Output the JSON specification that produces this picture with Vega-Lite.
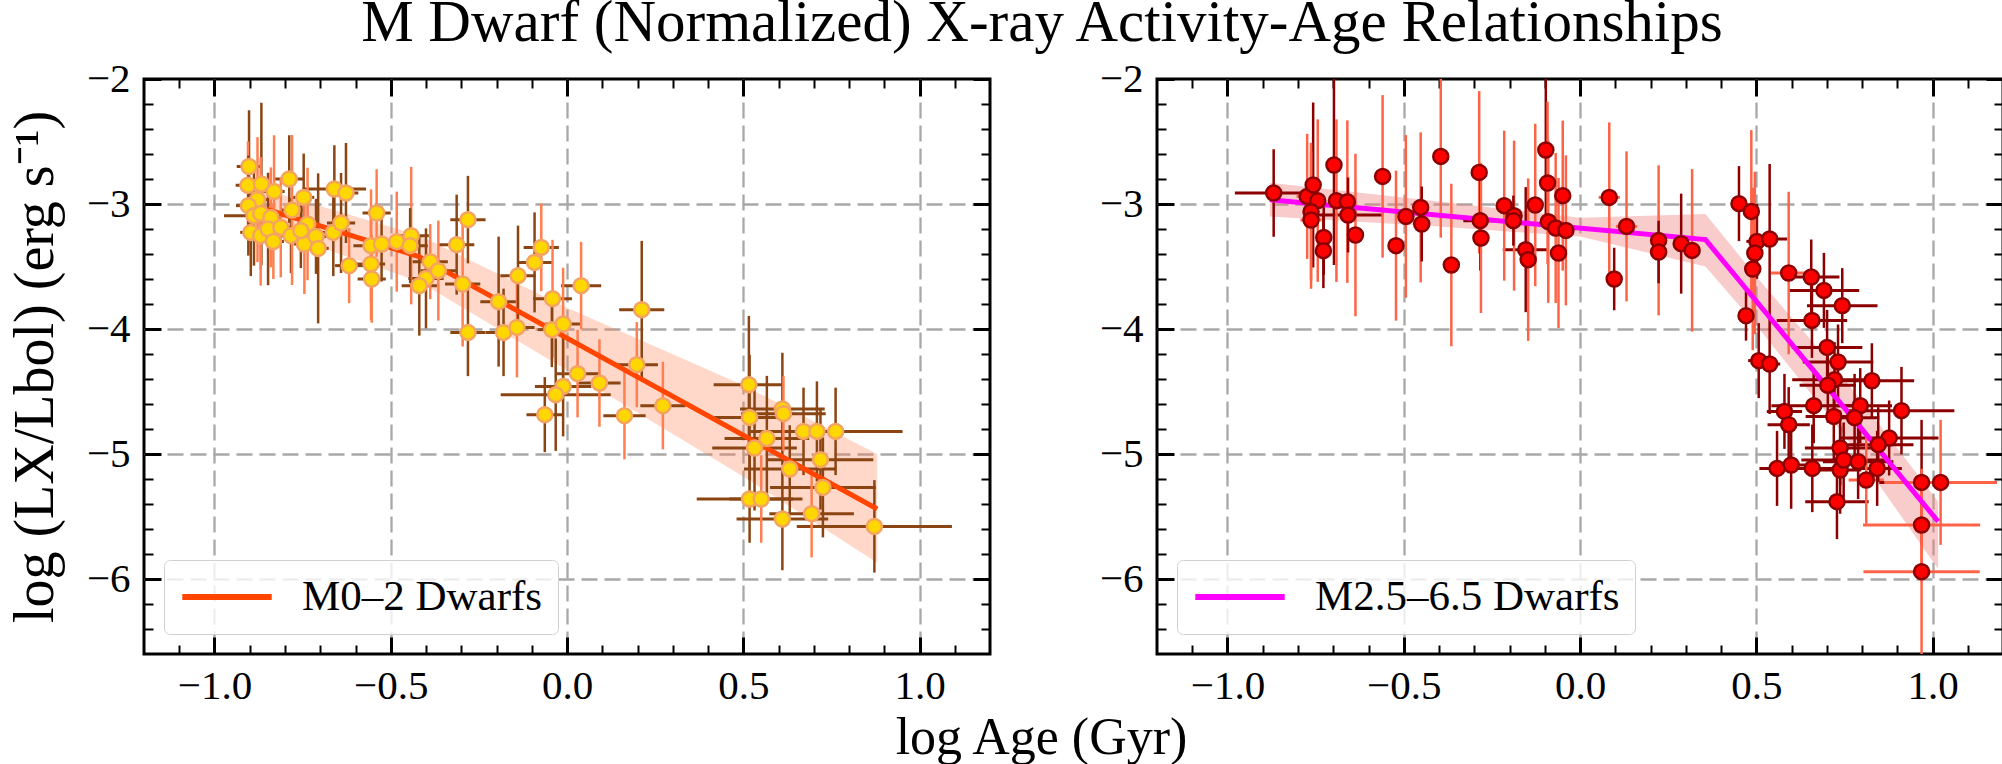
{
  "$schema": "https://vega.github.io/schema/vega-lite/v6.json",
  "background": "#ffffff",
  "padding": {"left": 5, "top": -7, "right": 0, "bottom": 0},
  "title": {
    "text": "M Dwarf (Normalized) X-ray Activity-Age Relationships",
    "font": "Liberation Serif",
    "fontSize": 59,
    "fontWeight": "normal",
    "color": "#000000",
    "anchor": "middle",
    "offset": 4,
    "dx": 36
  },
  "datasets": {
    "bandL": [
      {"x": -0.9, "lo": -3.15, "hi": -2.85},
      {"x": -0.42, "lo": -3.62, "hi": -3.25},
      {"x": 0.0, "lo": -4.33, "hi": -3.83},
      {"x": 0.5, "lo": -5.18, "hi": -4.45},
      {"x": 0.88, "lo": -5.87, "hi": -5.0}
    ],
    "fitL": [
      {"x": -0.9, "y": -3.0, "name": "M0–2 Dwarfs"},
      {"x": -0.42, "y": -3.42, "name": "M0–2 Dwarfs"},
      {"x": 0.88, "y": -5.44, "name": "M0–2 Dwarfs"}
    ],
    "bandR": [
      {"x": -0.88, "lo": -3.1, "hi": -2.83},
      {"x": -0.4, "lo": -3.18, "hi": -2.98},
      {"x": 0.0, "lo": -3.26, "hi": -3.11},
      {"x": 0.356, "lo": -3.5, "hi": -3.08},
      {"x": 0.5, "lo": -3.97, "hi": -3.58},
      {"x": 0.75, "lo": -4.85, "hi": -4.4},
      {"x": 1.016, "lo": -5.92, "hi": -5.38}
    ],
    "fitR": [
      {"x": -0.88, "y": -2.965, "name": "M2.5–6.5 Dwarfs"},
      {"x": 0.356, "y": -3.285, "name": "M2.5–6.5 Dwarfs"},
      {"x": 1.016, "y": -5.54, "name": "M2.5–6.5 Dwarfs"}
    ],
    "ptsL": [
      {"x": -0.902, "y": -2.7, "xlo": -0.937, "xhi": -0.867, "ylo": -3.15, "yhi": -2.25, "k": "a"},
      {"x": -0.905, "y": -2.85, "xlo": -0.94, "xhi": -0.87, "ylo": -3.2, "yhi": -2.5, "k": "b"},
      {"x": -0.867, "y": -2.84, "xlo": -0.897, "xhi": -0.837, "ylo": -3.49, "yhi": -2.19, "k": "a"},
      {"x": -0.831, "y": -2.9, "xlo": -0.861, "xhi": -0.801, "ylo": -3.35, "yhi": -2.45, "k": "b"},
      {"x": -0.788, "y": -2.8, "xlo": -0.828, "xhi": -0.748, "ylo": -3.15, "yhi": -2.45, "k": "a"},
      {"x": -0.878, "y": -2.965, "xlo": -0.908, "xhi": -0.848, "ylo": -3.465, "yhi": -2.465, "k": "b"},
      {"x": -0.904, "y": -3.013, "xlo": -0.939, "xhi": -0.869, "ylo": -3.413, "yhi": -2.613, "k": "a"},
      {"x": -0.888, "y": -3.093, "xlo": -0.973, "xhi": -0.803, "ylo": -3.493, "yhi": -2.693, "k": "a"},
      {"x": -0.869, "y": -3.075, "xlo": -0.899, "xhi": -0.839, "ylo": -3.525, "yhi": -2.625, "k": "b"},
      {"x": -0.84, "y": -3.107, "xlo": -0.87, "xhi": -0.81, "ylo": -3.507, "yhi": -2.707, "k": "b"},
      {"x": -0.897, "y": -3.227, "xlo": -0.927, "xhi": -0.867, "ylo": -3.577, "yhi": -2.877, "k": "a"},
      {"x": -0.869, "y": -3.253, "xlo": -0.899, "xhi": -0.839, "ylo": -3.653, "yhi": -2.853, "k": "b"},
      {"x": -0.848, "y": -3.2, "xlo": -0.878, "xhi": -0.818, "ylo": -3.65, "yhi": -2.75, "k": "a"},
      {"x": -0.833, "y": -3.3, "xlo": -0.863, "xhi": -0.803, "ylo": -3.6, "yhi": -3.0, "k": "b"},
      {"x": -0.812, "y": -3.187, "xlo": -0.842, "xhi": -0.782, "ylo": -3.587, "yhi": -2.787, "k": "b"},
      {"x": -0.783, "y": -3.253, "xlo": -0.813, "xhi": -0.753, "ylo": -3.553, "yhi": -2.953, "k": "a"},
      {"x": -0.78, "y": -3.048, "xlo": -0.81, "xhi": -0.75, "ylo": -3.648, "yhi": -2.448, "k": "b"},
      {"x": -0.747, "y": -2.947, "xlo": -0.777, "xhi": -0.717, "ylo": -3.297, "yhi": -2.597, "k": "a"},
      {"x": -0.745, "y": -3.32, "xlo": -0.775, "xhi": -0.715, "ylo": -3.72, "yhi": -2.92, "k": "b"},
      {"x": -0.736, "y": -3.16, "xlo": -0.766, "xhi": -0.706, "ylo": -3.61, "yhi": -2.71, "k": "b"},
      {"x": -0.755, "y": -3.213, "xlo": -0.785, "xhi": -0.725, "ylo": -3.513, "yhi": -2.913, "k": "a"},
      {"x": -0.712, "y": -3.259, "xlo": -0.742, "xhi": -0.682, "ylo": -3.559, "yhi": -2.959, "k": "a"},
      {"x": -0.706, "y": -3.355, "xlo": -0.736, "xhi": -0.676, "ylo": -3.955, "yhi": -2.755, "k": "a"},
      {"x": -0.663, "y": -3.227, "xlo": -0.703, "xhi": -0.623, "ylo": -3.577, "yhi": -2.877, "k": "a"},
      {"x": -0.66, "y": -2.88, "xlo": -0.75, "xhi": -0.57, "ylo": -3.23, "yhi": -2.53, "k": "a"},
      {"x": -0.627, "y": -2.912, "xlo": -0.662, "xhi": -0.592, "ylo": -3.312, "yhi": -2.512, "k": "a"},
      {"x": -0.641, "y": -3.152, "xlo": -0.681, "xhi": -0.601, "ylo": -3.552, "yhi": -2.752, "k": "a"},
      {"x": -0.618, "y": -3.493, "xlo": -0.658, "xhi": -0.578, "ylo": -3.793, "yhi": -3.193, "k": "b"},
      {"x": -0.556, "y": -3.333, "xlo": -0.606, "xhi": -0.506, "ylo": -3.783, "yhi": -2.883, "k": "b"},
      {"x": -0.556, "y": -3.48, "xlo": -0.596, "xhi": -0.516, "ylo": -3.93, "yhi": -3.03, "k": "b"},
      {"x": -0.554, "y": -3.6, "xlo": -0.594, "xhi": -0.514, "ylo": -3.95, "yhi": -3.25, "k": "b"},
      {"x": -0.54, "y": -3.072, "xlo": -0.58, "xhi": -0.5, "ylo": -3.422, "yhi": -2.722, "k": "b"},
      {"x": -0.526, "y": -3.32, "xlo": -0.566, "xhi": -0.486, "ylo": -3.62, "yhi": -3.02, "k": "a"},
      {"x": -0.483, "y": -3.301, "xlo": -0.513, "xhi": -0.453, "ylo": -3.701, "yhi": -2.901, "k": "b"},
      {"x": -0.442, "y": -3.253, "xlo": -0.492, "xhi": -0.392, "ylo": -3.803, "yhi": -2.703, "k": "b"},
      {"x": -0.445, "y": -3.333, "xlo": -0.495, "xhi": -0.395, "ylo": -3.633, "yhi": -3.033, "k": "a"},
      {"x": -0.388, "y": -3.461, "xlo": -0.438, "xhi": -0.338, "ylo": -3.761, "yhi": -3.161, "k": "b"},
      {"x": -0.4, "y": -3.595, "xlo": -0.45, "xhi": -0.35, "ylo": -3.995, "yhi": -3.195, "k": "a"},
      {"x": -0.419, "y": -3.653, "xlo": -0.469, "xhi": -0.369, "ylo": -4.053, "yhi": -3.253, "k": "a"},
      {"x": -0.365, "y": -3.533, "xlo": -0.415, "xhi": -0.315, "ylo": -3.933, "yhi": -3.133, "k": "b"},
      {"x": -0.313, "y": -3.325, "xlo": -0.363, "xhi": -0.263, "ylo": -3.725, "yhi": -2.925, "k": "a"},
      {"x": -0.281, "y": -3.125, "xlo": -0.331, "xhi": -0.231, "ylo": -3.475, "yhi": -2.775, "k": "a"},
      {"x": -0.296, "y": -3.64, "xlo": -0.346, "xhi": -0.246, "ylo": -4.14, "yhi": -3.14, "k": "b"},
      {"x": -0.194, "y": -3.781, "xlo": -0.246, "xhi": -0.142, "ylo": -4.301, "yhi": -3.261, "k": "a"},
      {"x": -0.281, "y": -4.027, "xlo": -0.331, "xhi": -0.231, "ylo": -4.377, "yhi": -3.677, "k": "a"},
      {"x": -0.18, "y": -4.027, "xlo": -0.23, "xhi": -0.13, "ylo": -4.377, "yhi": -3.677, "k": "a"},
      {"x": -0.142, "y": -3.987, "xlo": -0.192, "xhi": -0.092, "ylo": -4.387, "yhi": -3.587, "k": "b"},
      {"x": -0.139, "y": -3.573, "xlo": -0.189, "xhi": -0.089, "ylo": -3.973, "yhi": -3.173, "k": "a"},
      {"x": -0.092, "y": -3.467, "xlo": -0.142, "xhi": -0.042, "ylo": -3.867, "yhi": -3.067, "k": "a"},
      {"x": -0.073, "y": -3.347, "xlo": -0.123, "xhi": -0.023, "ylo": -3.697, "yhi": -2.997, "k": "b"},
      {"x": -0.041, "y": -3.757, "xlo": -0.096, "xhi": 0.014, "ylo": -4.227, "yhi": -3.287, "k": "b"},
      {"x": -0.043, "y": -4.005, "xlo": -0.083, "xhi": -0.003, "ylo": -4.305, "yhi": -3.705, "k": "a"},
      {"x": -0.011, "y": -3.96, "xlo": -0.061, "xhi": 0.039, "ylo": -4.41, "yhi": -3.51, "k": "b"},
      {"x": 0.04, "y": -3.653, "xlo": -0.017, "xhi": 0.097, "ylo": -4.003, "yhi": -3.303, "k": "b"},
      {"x": 0.212, "y": -3.845, "xlo": 0.148, "xhi": 0.276, "ylo": -4.395, "yhi": -3.295, "k": "a"},
      {"x": 0.03, "y": -4.357, "xlo": -0.03, "xhi": 0.09, "ylo": -4.707, "yhi": -4.007, "k": "b"},
      {"x": 0.092, "y": -4.432, "xlo": 0.032, "xhi": 0.152, "ylo": -4.782, "yhi": -4.082, "k": "b"},
      {"x": -0.011, "y": -4.459, "xlo": -0.091, "xhi": 0.069, "ylo": -4.859, "yhi": -4.059, "k": "a"},
      {"x": -0.032, "y": -4.525, "xlo": -0.188, "xhi": 0.124, "ylo": -4.975, "yhi": -4.075, "k": "a"},
      {"x": -0.063, "y": -4.685, "xlo": -0.115, "xhi": -0.011, "ylo": -4.985, "yhi": -4.385, "k": "a"},
      {"x": 0.198, "y": -4.285, "xlo": 0.138, "xhi": 0.258, "ylo": -4.625, "yhi": -3.945, "k": "b"},
      {"x": 0.163, "y": -4.693, "xlo": 0.103, "xhi": 0.223, "ylo": -5.043, "yhi": -4.343, "k": "b"},
      {"x": 0.272, "y": -4.613, "xlo": 0.208, "xhi": 0.336, "ylo": -4.963, "yhi": -4.263, "k": "b"},
      {"x": 0.516, "y": -4.445, "xlo": 0.416, "xhi": 0.616, "ylo": -4.995, "yhi": -3.895, "k": "a"},
      {"x": 0.518, "y": -4.707, "xlo": 0.418, "xhi": 0.618, "ylo": -5.207, "yhi": -4.207, "k": "a"},
      {"x": 0.611, "y": -4.64, "xlo": 0.491, "xhi": 0.731, "ylo": -5.09, "yhi": -4.19, "k": "a"},
      {"x": 0.614, "y": -4.677, "xlo": 0.494, "xhi": 0.734, "ylo": -4.977, "yhi": -4.377, "k": "b"},
      {"x": 0.567, "y": -4.875, "xlo": 0.447, "xhi": 0.687, "ylo": -5.375, "yhi": -4.375, "k": "a"},
      {"x": 0.532, "y": -4.952, "xlo": 0.412, "xhi": 0.652, "ylo": -5.452, "yhi": -4.452, "k": "a"},
      {"x": 0.671, "y": -4.819, "xlo": 0.521, "xhi": 0.821, "ylo": -5.169, "yhi": -4.469, "k": "a"},
      {"x": 0.709, "y": -4.819, "xlo": 0.589, "xhi": 0.829, "ylo": -5.219, "yhi": -4.419, "k": "a"},
      {"x": 0.762, "y": -4.819, "xlo": 0.572, "xhi": 0.952, "ylo": -5.169, "yhi": -4.469, "k": "a"},
      {"x": 0.719, "y": -5.045, "xlo": 0.569, "xhi": 0.869, "ylo": -5.445, "yhi": -4.645, "k": "a"},
      {"x": 0.632, "y": -5.12, "xlo": 0.502, "xhi": 0.762, "ylo": -5.47, "yhi": -4.77, "k": "a"},
      {"x": 0.726, "y": -5.267, "xlo": 0.576, "xhi": 0.876, "ylo": -5.667, "yhi": -4.867, "k": "a"},
      {"x": 0.518, "y": -5.36, "xlo": 0.368, "xhi": 0.668, "ylo": -5.71, "yhi": -5.01, "k": "a"},
      {"x": 0.551, "y": -5.36, "xlo": 0.461, "xhi": 0.641, "ylo": -5.71, "yhi": -5.01, "k": "b"},
      {"x": 0.611, "y": -5.52, "xlo": 0.481, "xhi": 0.741, "ylo": -5.93, "yhi": -5.11, "k": "a"},
      {"x": 0.694, "y": -5.477, "xlo": 0.574, "xhi": 0.814, "ylo": -5.827, "yhi": -5.127, "k": "b"},
      {"x": 0.872, "y": -5.579, "xlo": 0.652, "xhi": 1.092, "ylo": -5.949, "yhi": -5.209, "k": "a"}
    ],
    "ptsR": [
      {"x": -0.869, "y": -2.912, "xlo": -0.979, "xhi": -0.759, "ylo": -3.262, "yhi": -2.562, "k": "a"},
      {"x": -0.774, "y": -2.939, "xlo": -0.804, "xhi": -0.744, "ylo": -3.439, "yhi": -2.439, "k": "b"},
      {"x": -0.757, "y": -2.848, "xlo": -0.777, "xhi": -0.737, "ylo": -3.508, "yhi": -2.188, "k": "a"},
      {"x": -0.744, "y": -2.973, "xlo": -0.764, "xhi": -0.724, "ylo": -3.623, "yhi": -2.323, "k": "b"},
      {"x": -0.763, "y": -3.061, "xlo": -0.783, "xhi": -0.743, "ylo": -3.611, "yhi": -2.511, "k": "b"},
      {"x": -0.763, "y": -3.128, "xlo": -0.793, "xhi": -0.733, "ylo": -3.678, "yhi": -2.578, "k": "b"},
      {"x": -0.727, "y": -3.267, "xlo": -0.747, "xhi": -0.707, "ylo": -3.567, "yhi": -2.967, "k": "a"},
      {"x": -0.728, "y": -3.373, "xlo": -0.748, "xhi": -0.708, "ylo": -3.673, "yhi": -3.073, "k": "a"},
      {"x": -0.698, "y": -2.688, "xlo": -0.718, "xhi": -0.678, "ylo": -3.488, "yhi": -2.0, "k": "a"},
      {"x": -0.691, "y": -2.973, "xlo": -0.711, "xhi": -0.671, "ylo": -3.623, "yhi": -2.323, "k": "b"},
      {"x": -0.66, "y": -2.981, "xlo": -0.68, "xhi": -0.64, "ylo": -3.631, "yhi": -2.331, "k": "b"},
      {"x": -0.658, "y": -3.088, "xlo": -0.758, "xhi": -0.558, "ylo": -3.388, "yhi": -2.788, "k": "a"},
      {"x": -0.637, "y": -3.248, "xlo": -0.657, "xhi": -0.617, "ylo": -3.898, "yhi": -2.598, "k": "b"},
      {"x": -0.56, "y": -2.779, "xlo": -0.58, "xhi": -0.54, "ylo": -3.429, "yhi": -2.129, "k": "b"},
      {"x": -0.522, "y": -3.333, "xlo": -0.542, "xhi": -0.502, "ylo": -3.933, "yhi": -2.733, "k": "b"},
      {"x": -0.494, "y": -3.099, "xlo": -0.514, "xhi": -0.474, "ylo": -3.749, "yhi": -2.449, "k": "b"},
      {"x": -0.452, "y": -3.027, "xlo": -0.472, "xhi": -0.432, "ylo": -3.627, "yhi": -2.427, "k": "b"},
      {"x": -0.449, "y": -3.16, "xlo": -0.469, "xhi": -0.429, "ylo": -3.46, "yhi": -2.86, "k": "a"},
      {"x": -0.395, "y": -2.619, "xlo": -0.415, "xhi": -0.375, "ylo": -3.269, "yhi": -2.0, "k": "b"},
      {"x": -0.365, "y": -3.488, "xlo": -0.385, "xhi": -0.345, "ylo": -4.138, "yhi": -2.838, "k": "b"},
      {"x": -0.286, "y": -2.747, "xlo": -0.306, "xhi": -0.266, "ylo": -3.397, "yhi": -2.097, "k": "b"},
      {"x": -0.283, "y": -3.133, "xlo": -0.331, "xhi": -0.235, "ylo": -3.533, "yhi": -2.733, "k": "a"},
      {"x": -0.281, "y": -3.272, "xlo": -0.301, "xhi": -0.261, "ylo": -3.872, "yhi": -2.672, "k": "b"},
      {"x": -0.215, "y": -3.013, "xlo": -0.235, "xhi": -0.195, "ylo": -3.613, "yhi": -2.413, "k": "b"},
      {"x": -0.187, "y": -3.093, "xlo": -0.207, "xhi": -0.167, "ylo": -3.693, "yhi": -2.493, "k": "b"},
      {"x": -0.189, "y": -3.133, "xlo": -0.209, "xhi": -0.169, "ylo": -3.333, "yhi": -2.933, "k": "a"},
      {"x": -0.127, "y": -3.008, "xlo": -0.147, "xhi": -0.107, "ylo": -3.658, "yhi": -2.358, "k": "b"},
      {"x": -0.154, "y": -3.365, "xlo": -0.219, "xhi": -0.089, "ylo": -3.865, "yhi": -2.865, "k": "a"},
      {"x": -0.147, "y": -3.445, "xlo": -0.167, "xhi": -0.127, "ylo": -4.095, "yhi": -2.795, "k": "b"},
      {"x": -0.097, "y": -2.568, "xlo": -0.117, "xhi": -0.077, "ylo": -3.168, "yhi": -2.0, "k": "a"},
      {"x": -0.092, "y": -2.832, "xlo": -0.112, "xhi": -0.072, "ylo": -3.482, "yhi": -2.182, "k": "b"},
      {"x": -0.09, "y": -3.141, "xlo": -0.11, "xhi": -0.07, "ylo": -3.791, "yhi": -2.491, "k": "b"},
      {"x": -0.049, "y": -2.933, "xlo": -0.069, "xhi": -0.029, "ylo": -3.533, "yhi": -2.333, "k": "b"},
      {"x": -0.069, "y": -3.192, "xlo": -0.089, "xhi": -0.049, "ylo": -3.792, "yhi": -2.592, "k": "b"},
      {"x": -0.04, "y": -3.211, "xlo": -0.06, "xhi": -0.02, "ylo": -3.811, "yhi": -2.611, "k": "b"},
      {"x": -0.061, "y": -3.392, "xlo": -0.081, "xhi": -0.041, "ylo": -3.992, "yhi": -2.792, "k": "b"},
      {"x": 0.083, "y": -2.947, "xlo": 0.053, "xhi": 0.113, "ylo": -3.547, "yhi": -2.347, "k": "b"},
      {"x": 0.132, "y": -3.179, "xlo": 0.102, "xhi": 0.162, "ylo": -3.779, "yhi": -2.579, "k": "b"},
      {"x": 0.097, "y": -3.6, "xlo": 0.077, "xhi": 0.117, "ylo": -3.85, "yhi": -3.35, "k": "a"},
      {"x": 0.223, "y": -3.291, "xlo": 0.203, "xhi": 0.243, "ylo": -3.891, "yhi": -2.691, "k": "b"},
      {"x": 0.223, "y": -3.384, "xlo": 0.203, "xhi": 0.243, "ylo": -3.634, "yhi": -3.134, "k": "a"},
      {"x": 0.287, "y": -3.317, "xlo": 0.267, "xhi": 0.307, "ylo": -3.717, "yhi": -2.917, "k": "a"},
      {"x": 0.318, "y": -3.371, "xlo": 0.298, "xhi": 0.338, "ylo": -4.021, "yhi": -2.721, "k": "b"},
      {"x": 0.451, "y": -2.997, "xlo": 0.431, "xhi": 0.471, "ylo": -3.297, "yhi": -2.697, "k": "a"},
      {"x": 0.486, "y": -3.059, "xlo": 0.466, "xhi": 0.506, "ylo": -3.709, "yhi": -2.409, "k": "b"},
      {"x": 0.502, "y": -3.299, "xlo": 0.472, "xhi": 0.532, "ylo": -3.599, "yhi": -2.999, "k": "a"},
      {"x": 0.538, "y": -3.28, "xlo": 0.488, "xhi": 0.588, "ylo": -3.88, "yhi": -2.68, "k": "a"},
      {"x": 0.496, "y": -3.392, "xlo": 0.476, "xhi": 0.516, "ylo": -4.042, "yhi": -2.742, "k": "b"},
      {"x": 0.49, "y": -3.52, "xlo": 0.47, "xhi": 0.51, "ylo": -4.17, "yhi": -2.87, "k": "b"},
      {"x": 0.471, "y": -3.893, "xlo": 0.451, "xhi": 0.491, "ylo": -4.093, "yhi": -3.693, "k": "a"},
      {"x": 0.592, "y": -3.552, "xlo": 0.542, "xhi": 0.642, "ylo": -4.202, "yhi": -2.902, "k": "b"},
      {"x": 0.656, "y": -3.584, "xlo": 0.576, "xhi": 0.736, "ylo": -3.884, "yhi": -3.284, "k": "a"},
      {"x": 0.692, "y": -3.691, "xlo": 0.592, "xhi": 0.792, "ylo": -3.991, "yhi": -3.391, "k": "a"},
      {"x": 0.744, "y": -3.813, "xlo": 0.644, "xhi": 0.844, "ylo": -4.113, "yhi": -3.513, "k": "a"},
      {"x": 0.658, "y": -3.931, "xlo": 0.558, "xhi": 0.758, "ylo": -4.231, "yhi": -3.631, "k": "a"},
      {"x": 0.701, "y": -4.147, "xlo": 0.601, "xhi": 0.801, "ylo": -4.447, "yhi": -3.847, "k": "a"},
      {"x": 0.732, "y": -4.264, "xlo": 0.632, "xhi": 0.832, "ylo": -4.564, "yhi": -3.964, "k": "a"},
      {"x": 0.507, "y": -4.253, "xlo": 0.477, "xhi": 0.537, "ylo": -4.553, "yhi": -3.953, "k": "a"},
      {"x": 0.538, "y": -4.28, "xlo": 0.508, "xhi": 0.568, "ylo": -4.68, "yhi": -3.88, "k": "a"},
      {"x": 0.722, "y": -4.405, "xlo": 0.602, "xhi": 0.842, "ylo": -4.705, "yhi": -4.105, "k": "a"},
      {"x": 0.703, "y": -4.45, "xlo": 0.623, "xhi": 0.783, "ylo": -4.75, "yhi": -4.15, "k": "a"},
      {"x": 0.828, "y": -4.414, "xlo": 0.708, "xhi": 0.948, "ylo": -4.714, "yhi": -4.114, "k": "a"},
      {"x": 0.58, "y": -4.659, "xlo": 0.53, "xhi": 0.63, "ylo": -4.959, "yhi": -4.359, "k": "a"},
      {"x": 0.592, "y": -4.765, "xlo": 0.532, "xhi": 0.652, "ylo": -5.065, "yhi": -4.465, "k": "a"},
      {"x": 0.663, "y": -4.613, "xlo": 0.543, "xhi": 0.783, "ylo": -4.913, "yhi": -4.313, "k": "a"},
      {"x": 0.72, "y": -4.699, "xlo": 0.64, "xhi": 0.8, "ylo": -5.049, "yhi": -4.349, "k": "a"},
      {"x": 0.795, "y": -4.613, "xlo": 0.705, "xhi": 0.885, "ylo": -4.913, "yhi": -4.313, "k": "a"},
      {"x": 0.779, "y": -4.709, "xlo": 0.709, "xhi": 0.849, "ylo": -5.059, "yhi": -4.359, "k": "a"},
      {"x": 0.912, "y": -4.653, "xlo": 0.762, "xhi": 1.062, "ylo": -5.003, "yhi": -4.303, "k": "a"},
      {"x": 0.877, "y": -4.872, "xlo": 0.737, "xhi": 1.017, "ylo": -5.172, "yhi": -4.572, "k": "a"},
      {"x": 0.846, "y": -4.925, "xlo": 0.746, "xhi": 0.946, "ylo": -5.225, "yhi": -4.625, "k": "a"},
      {"x": 0.738, "y": -4.952, "xlo": 0.638, "xhi": 0.838, "ylo": -5.252, "yhi": -4.652, "k": "a"},
      {"x": 0.559, "y": -5.115, "xlo": 0.509, "xhi": 0.609, "ylo": -5.415, "yhi": -4.815, "k": "a"},
      {"x": 0.599, "y": -5.088, "xlo": 0.549, "xhi": 0.649, "ylo": -5.438, "yhi": -4.738, "k": "a"},
      {"x": 0.659, "y": -5.115, "xlo": 0.579, "xhi": 0.739, "ylo": -5.465, "yhi": -4.765, "k": "a"},
      {"x": 0.738, "y": -5.128, "xlo": 0.678, "xhi": 0.798, "ylo": -5.478, "yhi": -4.778, "k": "a"},
      {"x": 0.748, "y": -5.048, "xlo": 0.628, "xhi": 0.868, "ylo": -5.348, "yhi": -4.748, "k": "a"},
      {"x": 0.789, "y": -5.061, "xlo": 0.689, "xhi": 0.889, "ylo": -5.361, "yhi": -4.761, "k": "a"},
      {"x": 0.843, "y": -5.115, "xlo": 0.773, "xhi": 0.913, "ylo": -5.415, "yhi": -4.815, "k": "a"},
      {"x": 0.812, "y": -5.208, "xlo": 0.762, "xhi": 0.862, "ylo": -5.558, "yhi": -4.858, "k": "b"},
      {"x": 0.729, "y": -5.381, "xlo": 0.639, "xhi": 0.819, "ylo": -5.681, "yhi": -5.081, "k": "a"},
      {"x": 0.969, "y": -5.227, "xlo": 0.849, "xhi": 1.089, "ylo": -5.727, "yhi": -4.727, "k": "a"},
      {"x": 1.023, "y": -5.227, "xlo": 0.863, "xhi": 1.183, "ylo": -5.727, "yhi": -4.727, "k": "b"},
      {"x": 0.969, "y": -5.568, "xlo": 0.803, "xhi": 1.135, "ylo": -6.018, "yhi": -5.118, "k": "b"},
      {"x": 0.969, "y": -5.941, "xlo": 0.804, "xhi": 1.134, "ylo": -6.6, "yhi": -5.281, "k": "b"}
    ]
  },
  "spacing": 167,
  "bounds": "flush",
  "hconcat": [
    {
      "width": 846,
      "height": 575,
      "layer": [
        {
          "data": {"name": "bandL"},
          "mark": {"type": "area", "color": "#FF7F50", "opacity": 0.3},
          "encoding": {
            "x": {"field": "x", "type": "quantitative", "scale": {"domain": [-1.2, 1.2], "nice": false, "zero": false},
              "axis": {"orient": "bottom", "values": [-1, -0.5, 0, 0.5, 1], "format": ".1f", "grid": true, "tickSize": -17, "tickWidth": 3, "labelPadding": 29, "title": "log Age (Gyr)", "titleX": 897, "titlePadding": 6}},
            "y": {"field": "lo", "type": "quantitative", "scale": {"domain": [-6.6, -2], "nice": false, "zero": false},
              "axis": {"orient": "left", "values": [-2, -3, -4, -5, -6], "format": "d", "grid": true, "gridOpacity": {"condition": {"test": "datum.value == -2", "value": 0}, "value": 1}, "tickSize": -17, "tickWidth": 3, "labelPadding": 31, "title": "log (LX/Lbol) (erg s⁻¹)", "titleFontSize": 56, "titlePadding": 22}},
            "y2": {"field": "hi"}
          }
        },
        {
          "data": {"name": "ptsL"},
          "mark": {"type": "rule", "color": "#8B4513", "strokeWidth": 3, "clip": true},
          "encoding": {
            "x": {"field": "xlo", "type": "quantitative", "scale": {"domain": [-1.2, 1.2], "nice": false, "zero": false},
              "axis": {"orient": "bottom", "values": [-1.1, -0.9, -0.8, -0.7, -0.6, -0.4, -0.3, -0.2, -0.1, 0.1, 0.2, 0.3, 0.4, 0.6, 0.7, 0.8, 0.9, 1.1], "labels": false, "tickSize": -9, "tickWidth": 2, "title": null}},
            "x2": {"field": "xhi"},
            "y": {"field": "y", "type": "quantitative", "scale": {"domain": [-6.6, -2], "nice": false, "zero": false},
              "axis": {"orient": "left", "values": [-2.2, -2.4, -2.6, -2.8, -3.2, -3.4, -3.6, -3.8, -4.2, -4.4, -4.6, -4.8, -5.2, -5.4, -5.6, -5.8, -6.2, -6.4], "labels": false, "tickSize": -9, "tickWidth": 2, "title": null}}
          }
        },
        {
          "data": {"name": "ptsL"},
          "mark": {"type": "rule", "strokeWidth": 2.5, "clip": true},
          "encoding": {
            "x": {"field": "x", "type": "quantitative", "scale": {"domain": [-1.2, 1.2], "nice": false, "zero": false},
              "axis": {"orient": "top", "values": [-1.1, -0.9, -0.8, -0.7, -0.6, -0.4, -0.3, -0.2, -0.1, 0.1, 0.2, 0.3, 0.4, 0.6, 0.7, 0.8, 0.9, 1.1], "labels": false, "tickSize": -9, "tickWidth": 2, "title": null}},
            "y": {"field": "ylo", "type": "quantitative", "scale": {"domain": [-6.6, -2], "nice": false, "zero": false},
              "axis": {"orient": "right", "values": [-2.2, -2.4, -2.6, -2.8, -3.2, -3.4, -3.6, -3.8, -4.2, -4.4, -4.6, -4.8, -5.2, -5.4, -5.6, -5.8, -6.2, -6.4], "labels": false, "tickSize": -9, "tickWidth": 2, "title": null}},
            "y2": {"field": "yhi"},
            "color": {"field": "k", "type": "nominal", "scale": {"domain": ["a", "b"], "range": ["#8B4513", "#FF7F50"]}, "legend": null}
          }
        },
        {
          "data": {"name": "fitL"},
          "mark": {"type": "line", "strokeWidth": 5},
          "encoding": {
            "x": {"field": "x", "type": "quantitative", "scale": {"domain": [-1.2, 1.2], "nice": false, "zero": false},
              "axis": {"orient": "top", "values": [-1, -0.5, 0, 0.5, 1], "labels": false, "tickSize": -17, "tickWidth": 3, "title": null}},
            "y": {"field": "y", "type": "quantitative", "scale": {"domain": [-6.6, -2], "nice": false, "zero": false},
              "axis": {"orient": "right", "values": [-2, -3, -4, -5, -6], "labels": false, "tickSize": -17, "tickWidth": 3, "title": null}},
            "stroke": {"field": "name", "type": "nominal", "scale": {"domain": ["M0–2 Dwarfs"], "range": ["#FF4500"]},
              "legend": {"title": null, "orient": "bottom-left", "offset": 20}}
          }
        },
        {
          "data": {"name": "ptsL"},
          "mark": {"type": "circle", "size": 225, "fill": "#FFD700", "stroke": "#F4A460", "strokeWidth": 2.5, "opacity": 1},
          "encoding": {
            "x": {"field": "x", "type": "quantitative", "axis": null},
            "y": {"field": "y", "type": "quantitative", "axis": null}
          }
        }
      ],
      "resolve": {"axis": {"x": "independent", "y": "independent"}}
    },
    {
      "width": 846,
      "height": 575,
      "layer": [
        {
          "data": {"name": "bandR"},
          "mark": {"type": "area", "color": "#F08080", "opacity": 0.4},
          "encoding": {
            "x": {"field": "x", "type": "quantitative", "scale": {"domain": [-1.2, 1.2], "nice": false, "zero": false},
              "axis": {"orient": "bottom", "values": [-1, -0.5, 0, 0.5, 1], "format": ".1f", "grid": true, "tickSize": -17, "tickWidth": 3, "labelPadding": 29, "title": null}},
            "y": {"field": "lo", "type": "quantitative", "scale": {"domain": [-6.6, -2], "nice": false, "zero": false},
              "axis": {"orient": "left", "values": [-2, -3, -4, -5, -6], "format": "d", "grid": true, "gridOpacity": {"condition": {"test": "datum.value == -2", "value": 0}, "value": 1}, "tickSize": -17, "tickWidth": 3, "labelPadding": 31, "title": null}},
            "y2": {"field": "hi"}
          }
        },
        {
          "data": {"name": "ptsR"},
          "mark": {"type": "rule", "strokeWidth": 3, "clip": true},
          "encoding": {
            "x": {"field": "xlo", "type": "quantitative", "scale": {"domain": [-1.2, 1.2], "nice": false, "zero": false},
              "axis": {"orient": "bottom", "values": [-1.1, -0.9, -0.8, -0.7, -0.6, -0.4, -0.3, -0.2, -0.1, 0.1, 0.2, 0.3, 0.4, 0.6, 0.7, 0.8, 0.9, 1.1], "labels": false, "tickSize": -9, "tickWidth": 2, "title": null}},
            "x2": {"field": "xhi"},
            "y": {"field": "y", "type": "quantitative", "scale": {"domain": [-6.6, -2], "nice": false, "zero": false},
              "axis": {"orient": "left", "values": [-2.2, -2.4, -2.6, -2.8, -3.2, -3.4, -3.6, -3.8, -4.2, -4.4, -4.6, -4.8, -5.2, -5.4, -5.6, -5.8, -6.2, -6.4], "labels": false, "tickSize": -9, "tickWidth": 2, "title": null}},
            "color": {"field": "k", "type": "nominal", "scale": {"domain": ["a", "b"], "range": ["#8B0000", "#FF6347"]}, "legend": null}
          }
        },
        {
          "data": {"name": "ptsR"},
          "mark": {"type": "rule", "strokeWidth": 2.5, "clip": true},
          "encoding": {
            "x": {"field": "x", "type": "quantitative", "scale": {"domain": [-1.2, 1.2], "nice": false, "zero": false},
              "axis": {"orient": "top", "values": [-1.1, -0.9, -0.8, -0.7, -0.6, -0.4, -0.3, -0.2, -0.1, 0.1, 0.2, 0.3, 0.4, 0.6, 0.7, 0.8, 0.9, 1.1], "labels": false, "tickSize": -9, "tickWidth": 2, "title": null}},
            "y": {"field": "ylo", "type": "quantitative", "scale": {"domain": [-6.6, -2], "nice": false, "zero": false},
              "axis": {"orient": "right", "values": [-2.2, -2.4, -2.6, -2.8, -3.2, -3.4, -3.6, -3.8, -4.2, -4.4, -4.6, -4.8, -5.2, -5.4, -5.6, -5.8, -6.2, -6.4], "labels": false, "tickSize": -9, "tickWidth": 2, "title": null}},
            "y2": {"field": "yhi"},
            "color": {"field": "k", "type": "nominal", "scale": {"domain": ["a", "b"], "range": ["#8B0000", "#FF6347"]}, "legend": null}
          }
        },
        {
          "data": {"name": "fitR"},
          "mark": {"type": "line", "strokeWidth": 5},
          "encoding": {
            "x": {"field": "x", "type": "quantitative", "scale": {"domain": [-1.2, 1.2], "nice": false, "zero": false},
              "axis": {"orient": "top", "values": [-1, -0.5, 0, 0.5, 1], "labels": false, "tickSize": -17, "tickWidth": 3, "title": null}},
            "y": {"field": "y", "type": "quantitative", "scale": {"domain": [-6.6, -2], "nice": false, "zero": false},
              "axis": {"orient": "right", "values": [-2, -3, -4, -5, -6], "labels": false, "tickSize": -17, "tickWidth": 3, "title": null}},
            "stroke": {"field": "name", "type": "nominal", "scale": {"domain": ["M2.5–6.5 Dwarfs"], "range": ["#FF00FF"]},
              "legend": {"title": null, "orient": "bottom-left", "offset": 20}}
          }
        },
        {
          "data": {"name": "ptsR"},
          "mark": {"type": "circle", "size": 225, "fill": "#FF0000", "stroke": "#8B0000", "strokeWidth": 2.5, "opacity": 1},
          "encoding": {
            "x": {"field": "x", "type": "quantitative", "axis": null},
            "y": {"field": "y", "type": "quantitative", "axis": null}
          }
        }
      ],
      "resolve": {"axis": {"x": "independent", "y": "independent"}}
    }
  ],
  "resolve": {"scale": {"color": "independent", "stroke": "independent"}, "legend": {"stroke": "independent", "color": "independent"}},
  "config": {
    "view": {"stroke": "#000000", "strokeWidth": 3},
    "axis": {
      "domain": false,
      "grid": false,
      "tickColor": "#000000",
      "labelFont": "Liberation Serif",
      "labelFontSize": 41,
      "labelColor": "#000000",
      "labelFlush": false,
      "labelOverlap": false,
      "titleFont": "Liberation Serif",
      "titleFontSize": 52,
      "titleFontWeight": "normal",
      "titleColor": "#000000",
      "gridColor": "#a8a8a8",
      "gridWidth": 2.3,
      "gridDash": [16, 7]
    },
    "legend": {
      "labelFont": "Liberation Serif",
      "labelFontSize": 43,
      "labelColor": "#000000",
      "labelLimit": 1000,
      "symbolType": "stroke",
      "symbolStrokeWidth": 6,
      "symbolSize": 8000,
      "labelOffset": 27,
      "padding": 15,
      "clipHeight": 44,
      "fillColor": "rgba(255,255,255,0.8)",
      "strokeColor": "#d0d0d0",
      "cornerRadius": 6
    }
  }
}
